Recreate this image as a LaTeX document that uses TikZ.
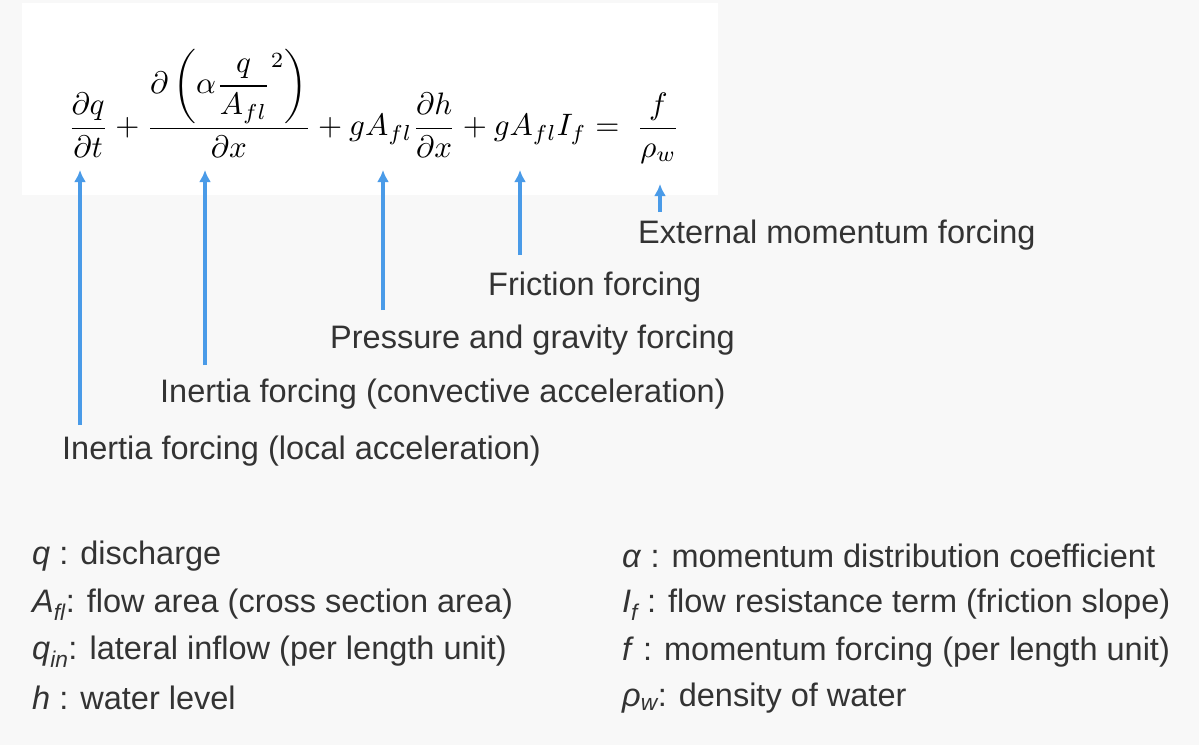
\documentclass[tikz,border=0pt]{standalone}
\usepackage{fontspec}
\setmainfont{Liberation Sans}
\usepackage{amsmath}
\definecolor{bg}{HTML}{F8F8F8}
\definecolor{arr}{HTML}{4A9BE8}
\definecolor{txt}{HTML}{333333}
\tikzset{lab/.style={anchor=west,inner sep=0pt,text=txt,font=\fontsize{32.5}{34}\selectfont},
 up/.style={arr,line width=4pt,-{Latex[length=12pt,width=12pt]}}}
\usetikzlibrary{arrows.meta}
\begin{document}
\begin{tikzpicture}[x=1pt,y=-1pt]
\fill[bg] (0,0) rectangle (1199,745);
\useasboundingbox (0,0) rectangle (1199,745);
\fill[white] (22,3) rectangle (718,195);
\node[inner sep=0pt] (eq) at (374,106) {\scalebox{3.1}{$\dfrac{\partial q}{\partial t}+\dfrac{\partial\left(\alpha\dfrac{q}{A_{fl}}^{2}\right)}{\partial x}+gA_{fl}\dfrac{\partial h}{\partial x}+gA_{fl}I_f=\;\dfrac{f}{\rho_w}$}};
\node[lab] (t5) at (638,235) {External momentum forcing};
\node[lab] (t4) at (488,287) {Friction forcing};
\node[lab] (t3) at (330,340) {Pressure and gravity forcing};
\node[lab] (t2) at (160,394) {Inertia forcing (convective acceleration)};
\node[lab] (t1) at (62,451) {Inertia forcing (local acceleration)};
\coordinate (a1s) at (80,425); \coordinate (a1e) at (80,170);
\coordinate (a2s) at (205,365); \coordinate (a2e) at (205,170);
\coordinate (a3s) at (383,310); \coordinate (a3e) at (383,170);
\coordinate (a4s) at (520,255); \coordinate (a4e) at (520,170);
\coordinate (a5s) at (660,212); \coordinate (a5e) at (660,184);
\foreach \i in {1,...,5}{\draw[up] (a\i s) -- (a\i e);}
\node[lab] (l1) at (32,556) {\textit{q} : discharge};
\node[lab] (l2) at (32,605) {\textit{A\textsubscript{fl}}: flow area (cross section area)};
\node[lab] (l3) at (32,652) {\textit{q\textsubscript{in}}: lateral inflow (per length unit)};
\node[lab] (l4) at (32,698) {\textit{h} : water level};
\node[lab] (r1) at (622,556) {\textit{α} : momentum distribution coefficient};
\node[lab] (r2) at (622,605) {\textit{I\textsubscript{f}} : flow resistance term (friction slope)};
\node[lab] (r3) at (622,652) {\textit{f} : momentum forcing (per length unit)};
\node[lab] (r4) at (622,698) {\textit{ρ\textsubscript{w}}: density of water};
\end{tikzpicture}
\end{document}
